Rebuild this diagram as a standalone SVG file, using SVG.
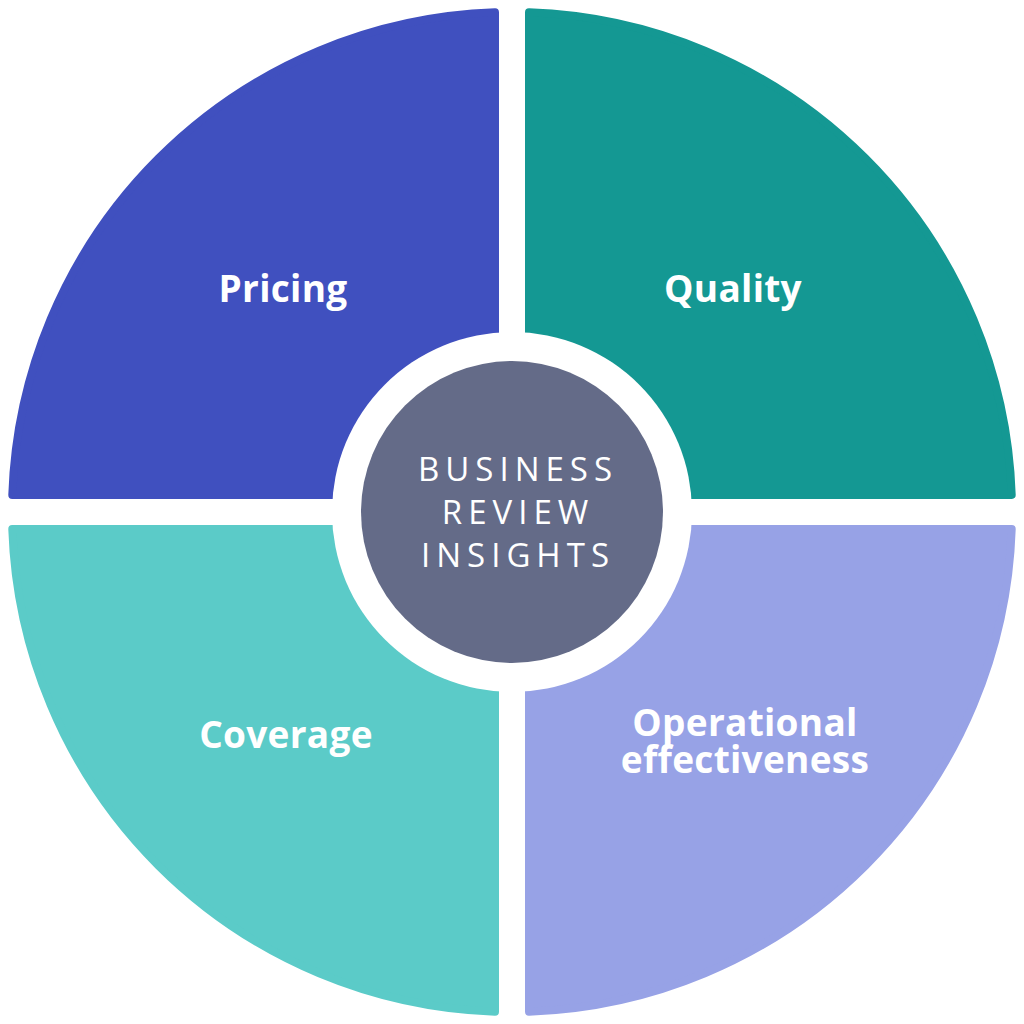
<svg xmlns="http://www.w3.org/2000/svg" width="1024" height="1024" viewBox="0 0 1024 1024">
<style>
.q{stroke-width:8;stroke-linejoin:round}
.lbl{font-family:"Open Sans","Liberation Sans",sans-serif;font-weight:700;font-size:37px;fill:#ffffff;text-anchor:middle;letter-spacing:0.3px}
.ctr{font-family:"Open Sans","Liberation Sans",sans-serif;font-weight:400;font-size:33px;fill:#ffffff;text-anchor:middle;letter-spacing:6px}
</style>
<rect width="1024" height="1024" fill="#ffffff"/>
<g id="pricing">
<path class="q" d="M495 495 L12.29 495 A500 500 0 0 1 495 12.29 Z" fill="#4050BF" stroke="#4050BF"/>
<text class="lbl" x="283" y="302">Pricing</text>
</g>
<g id="quality">
<path class="q" d="M529 495 L529 12.29 A500 500 0 0 1 1011.71 495 Z" fill="#149893" stroke="#149893"/>
<text class="lbl" x="733" y="302">Quality</text>
</g>
<g id="operational">
<path class="q" d="M529 529 L1011.71 529 A500 500 0 0 1 529 1011.71 Z" fill="#97A2E6" stroke="#97A2E6"/>
<text class="lbl"><tspan x="745" y="736">Operational</tspan><tspan x="745" y="773">effectiveness</tspan></text>
</g>
<g id="coverage">
<path class="q" d="M495 529 L495 1011.71 A500 500 0 0 1 12.29 529 Z" fill="#5BCBC8" stroke="#5BCBC8"/>
<text class="lbl" x="286" y="748">Coverage</text>
</g>
<g id="center">
<circle cx="512" cy="512" r="180" fill="#ffffff"/>
<circle cx="512" cy="512" r="151" fill="#646B88"/>
<text class="ctr" x="518" y="481">BUSINESS</text>
<text class="ctr" x="518" y="524">REVIEW</text>
<text class="ctr" x="518" y="567">INSIGHTS</text>
</g>
<g id="connectors"/>
</svg>
